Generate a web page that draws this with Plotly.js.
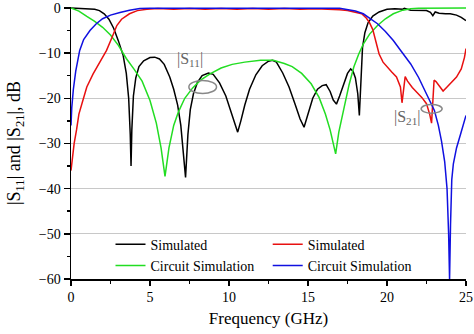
<!DOCTYPE html>
<html>
<head>
<meta charset="utf-8">
<script src="https://cdn.plot.ly/plotly-3.0.1.min.js"></script>
<style>html,body{margin:0;padding:0;background:#fff;}#chart{width:474px;height:334px;}</style>
</head>
<body>
<div id="chart"></div>
<script>
// S11 simulated (black)
const s11SimX = [0,0.5,1.0,1.5,1.8,2.1,2.4,2.7,3.0,3.3,3.5,3.65,3.75,3.8,3.85,3.95,4.1,4.3,4.6,5.0,5.3,5.6,5.9,6.25,6.5,6.75,6.95,7.1,7.25,7.4,7.55,7.75,8.0,8.3,8.7,9.0,9.4,9.8,10.1,10.35,10.55,10.75,11.0,11.3,11.7,12.1,12.5,12.75,13.0,13.4,13.8,14.2,14.5,14.75,15.0,15.3,15.6,15.9,16.15,16.4,16.6,16.8,17.0,17.25,17.5,17.7,17.85,18.0,18.15,18.25,18.35,18.45,18.6,18.8,19.1,19.5,20.0,20.5,21.0,21.1,21.5,22.0,22.5,22.75,22.9,23.05,23.3,23.7,24.0,24.4,24.7,25.0];
const s11SimY = [0,-0.05,-0.1,-0.3,-0.6,-1.3,-2.5,-4.5,-7.3,-10.5,-14.5,-20,-28,-35,-27,-19.5,-15.5,-13,-11.7,-11,-10.9,-11.3,-12.5,-15.3,-18,-21.5,-26,-31,-37.5,-28,-22.5,-19,-16.5,-15,-14.4,-14.7,-16.6,-19.5,-22.7,-25.5,-27.5,-25,-21.5,-18,-14.8,-12.8,-11.8,-11.6,-12,-14.4,-17.5,-21.5,-24.6,-26.4,-23.5,-20,-18,-17.2,-17,-18.5,-20.4,-21.3,-19.5,-16.8,-14.5,-13.5,-14,-15.5,-19,-23.8,-14,-8.8,-5.5,-3.3,-1.8,-0.9,-0.3,-0.2,-0.3,-0.1,-0.5,-0.55,-0.6,-1.0,-1.7,-0.9,-1.2,-1.3,-1.3,-1.6,-2.1,-2.8];

// S11 circuit simulation (green)
const s11CirX = [0,0.5,1.0,1.5,2.0,2.5,3.0,3.5,4.0,4.5,5.0,5.4,5.7,5.95,6.2,6.5,6.8,7.2,7.7,8.2,8.8,9.5,10.2,11.0,12.0,12.8,13.5,14.0,14.6,15.2,15.7,16.1,16.4,16.6,16.75,16.95,17.25,17.6,17.9,18.2,18.5,18.9,19.4,19.9,20.4,21.0,21.5,22.0,25.0];
const s11CirY = [0,-0.7,-1.9,-3.0,-4.3,-6.0,-8.3,-11.2,-13.6,-16.2,-20.5,-25.5,-31,-37.3,-31,-26,-23,-20,-17.7,-16,-14.6,-13.3,-12.5,-12,-11.6,-11.6,-12.3,-13,-14.5,-16.8,-19.8,-23.5,-27,-30.5,-32.3,-27.5,-22.5,-17,-13.1,-10.3,-8,-5.8,-3.9,-2.4,-1.3,-0.5,-0.2,-0.05,0];

// S21 simulated (red)
const s21SimX = [0,0.1,0.2,0.35,0.5,0.75,1.0,1.4,1.8,2.25,2.6,2.9,3.2,3.7,4.2,4.8,5.5,6.5,7.5,8.5,9.5,10.5,11.5,12.5,13.5,14.5,15.5,16.5,17.0,17.5,18.0,18.4,18.7,18.9,19.1,19.3,19.5,19.75,20.0,20.3,20.6,20.85,20.95,21.05,21.15,21.3,21.6,21.9,22.2,22.5,22.7,22.82,22.92,22.98,23.1,23.3,23.55,23.8,24.1,24.4,24.7,24.9,25.0];
const s21SimY = [-36,-33,-30,-27,-23.5,-20.5,-17.5,-14.6,-12,-9.4,-6.5,-3.9,-2.5,-1.3,-0.6,-0.3,-0.15,-0.3,-0.15,-0.3,-0.15,-0.3,-0.15,-0.3,-0.15,-0.3,-0.2,-0.3,-0.4,-0.6,-0.9,-1.3,-2.3,-3.3,-4.8,-7.5,-10.2,-12,-13.1,-14.2,-15.3,-17.5,-21,-18,-15.2,-16.2,-17.6,-18.7,-19.8,-21.2,-23.5,-25.5,-20,-16,-16.3,-17.3,-18.4,-17.5,-16.5,-15.3,-13.5,-11,-9];

// S21 circuit simulation (blue)
const s21CirX = [0,0.05,0.15,0.3,0.55,0.8,1.2,1.6,2.0,2.5,3.1,3.7,4.35,5.0,17.0,17.5,18.0,18.5,19.0,19.4,19.9,20.4,20.9,21.5,22.0,22.3,22.7,23.0,23.25,23.45,23.65,23.8,23.9,23.96,24.02,24.1,24.2,24.4,24.65,24.85,25.0];
const s21CirY = [-26,-22,-18,-14,-9.4,-7,-5,-3.5,-2.4,-1.6,-1,-0.5,-0.15,-0.05,-0.1,-0.35,-0.7,-1.3,-2.5,-3.5,-5.2,-7.2,-9.6,-12.4,-15.4,-17.6,-20.4,-22.7,-26,-29.5,-34,-40,-50,-60,-48,-38,-34.5,-31,-28,-25.5,-23.8];

const legendNames = ['Simulated','Circuit Simulation','Simulated','Circuit Simulation'];
const xTickVals = [0,5,10,15,20,25];
const yTickVals = [0,-10,-20,-30,-40,-50,-60];
const xTitle = 'Frequency (GHz)';
const yTitle = '|S<sub>11</sub>| and |S<sub>21</sub>|, dB';
const labelS11 = '|S<sub>11</sub>|';
const labelS21 = '|S<sub>21</sub>|';

const FONT = "'Liberation Serif', 'Times New Roman', Times, serif";

const traces = [
  {x: s11SimX, y: s11SimY, name: legendNames[0], mode: 'lines', line: {color: '#000000', width: 1.5}, legend: 'legend'},
  {x: s11CirX, y: s11CirY, name: legendNames[1], mode: 'lines', line: {color: '#22dd22', width: 1.5}, legend: 'legend'},
  {x: s21SimX, y: s21SimY, name: legendNames[2], mode: 'lines', line: {color: '#e81010', width: 1.5}, legend: 'legend2'},
  {x: s21CirX, y: s21CirY, name: legendNames[3], mode: 'lines', line: {color: '#1010e0', width: 1.5}, legend: 'legend2'}
];

const legendCommon = {
  orientation: 'v', yanchor: 'top', xanchor: 'left',
  bgcolor: 'rgba(0,0,0,0)', borderwidth: 0,
  font: {family: FONT, size: 14, color: '#000'},
  tracegroupgap: 0
};

const layout = {
  width: 474, height: 334,
  margin: {l: 71, r: 8, t: 7, b: 55},
  paper_bgcolor: '#fff', plot_bgcolor: '#fff',
  font: {family: FONT, size: 14, color: '#000'},
  showlegend: true,
  legend: Object.assign({}, legendCommon, {x: 0.10, y: 0.185}),
  legend2: Object.assign({}, legendCommon, {x: 0.498, y: 0.185}),
  xaxis: {
    range: [0, 25], tickvals: xTickVals, ticks: 'outside', ticklen: 5, tickwidth: 1.5, tickcolor: '#000',
    showline: true, linecolor: '#000', linewidth: 1.5, showgrid: false, zeroline: false,
    minor: {dtick: 2.5, ticks: 'outside', ticklen: 3, tickwidth: 1.5, tickcolor: '#000', showgrid: false},
    tickfont: {family: FONT, size: 14},
    title: {text: xTitle, font: {family: FONT, size: 17}, standoff: 8}
  },
  yaxis: {
    range: [-60, 0.2], tickvals: yTickVals, ticks: 'outside', ticklen: 6, tickwidth: 1.5, tickcolor: '#000',
    showline: true, linecolor: '#000', linewidth: 1.5, showgrid: true, gridcolor: '#c8c8c8', gridwidth: 1, zeroline: false,
    minor: {dtick: 5, ticks: 'outside', ticklen: 3, tickwidth: 1.5, tickcolor: '#000', showgrid: false},
    tickfont: {family: FONT, size: 14},
    title: {text: yTitle, font: {family: FONT, size: 18}, standoff: 13}
  },
  annotations: [
    {x: 7.52, y: -11.4, xref: 'x', yref: 'y', text: labelS11, showarrow: false, font: {family: FONT, size: 16, color: '#666'}},
    {x: 21.29, y: -24.2, xref: 'x', yref: 'y', text: labelS21, showarrow: false, font: {family: FONT, size: 16, color: '#666'}}
  ],
  shapes: [
    {type: 'circle', xref: 'x', yref: 'y', x0: 7.46, x1: 9.21, y0: -16.05, y1: -18.93, line: {color: '#888', width: 1.5}},
    {type: 'circle', xref: 'x', yref: 'y', x0: 22.16, x1: 23.49, y0: -21.36, y1: -23.29, line: {color: '#888', width: 1.5}}
  ]
};

Plotly.newPlot('chart', traces, layout, {staticPlot: true, displayModeBar: false});
</script>
</body>
</html>
